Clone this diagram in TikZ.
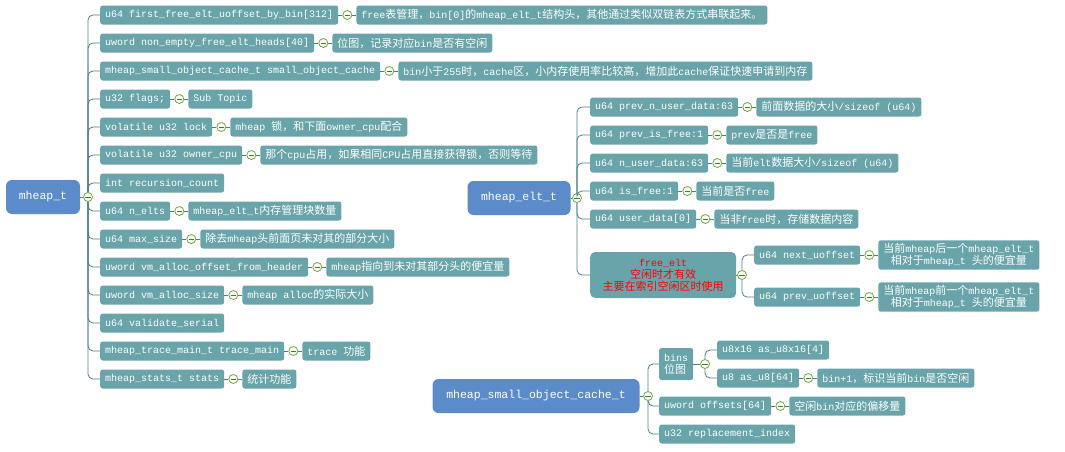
\documentclass[tikz,border=0pt]{standalone}
\usepackage{fontspec}
\setmainfont{Liberation Mono}
\newfontfamily\cjk[Scale=1.1]{Noto Sans CJK SC}
\newcommand{\zh}[1]{{\cjk #1}}
\usetikzlibrary{positioning}
\definecolor{itemfill}{HTML}{68A4A9}
\definecolor{rootfill}{HTML}{5B8BC9}
\definecolor{linkcol}{HTML}{4F7F86}
\definecolor{foldcol}{HTML}{6DAA3A}

\begin{document}
\begin{tikzpicture}[
    x=1pt, y=-1pt,
    font=\fontsize{10}{12}\selectfont,
    item/.style={rectangle, rounded corners=2.5pt, fill=itemfill, text=white, minimum height=19pt, inner xsep=5pt, inner ysep=2pt},
    note/.style={item},
    root/.style={rectangle, rounded corners=6pt, fill=rootfill, text=white, minimum height=34pt, font=\fontsize{11.5}{14}\selectfont},
    fold/.style={circle, draw=foldcol, fill=white, line width=0.8pt, inner sep=0pt, minimum size=9pt,
        path picture={\draw[foldcol!70!black, line width=0.8pt] ([xshift=-2.6pt]path picture bounding box.center) -- ([xshift=2.6pt]path picture bounding box.center);}},
    link/.style={draw=linkcol, line width=0.8pt, rounded corners=5pt}
]
\useasboundingbox (0,0) rectangle (1065,451);

% mheap_t
\node[root, minimum width=74pt] (heap) at (43,197) {mheap\_t};
\node[fold] (heapc) at (88,197) {};

\node[item, anchor=west] (h1) at (100,15) {u64 first\_free\_elt\_uoffset\_by\_bin[312]};
\node[item, anchor=west] (h2) at (100,43) {uword non\_empty\_free\_elt\_heads[40]};
\node[item, anchor=west] (h3) at (100,71) {mheap\_small\_object\_cache\_t small\_object\_cache};
\node[item, anchor=west] (h4) at (100,99) {u32 flags;};
\node[item, anchor=west] (h5) at (100,127) {volatile u32 lock};
\node[item, anchor=west] (h6) at (100,155) {volatile u32 owner\_cpu};
\node[item, anchor=west] (h7) at (100,183) {int recursion\_count};
\node[item, anchor=west] (h8) at (100,211) {u64 n\_elts};
\node[item, anchor=west] (h9) at (100,239) {u64 max\_size};
\node[item, anchor=west] (h10) at (100,267) {uword vm\_alloc\_offset\_from\_header};
\node[item, anchor=west] (h11) at (100,295) {uword vm\_alloc\_size};
\node[item, anchor=west] (h12) at (100,323) {u64 validate\_serial};
\node[item, anchor=west] (h13) at (100,351) {mheap\_trace\_main\_t trace\_main};
\node[item, anchor=west] (h14) at (100,379) {mheap\_stats\_t stats};

\foreach \n in {1,...,14} {
    \draw[link] (heapc) |- (h\n.west);
}
\draw[link] (heap.east) -- (heapc);

% notes of mheap_t
\foreach \n/\txt in {1/{free\zh{表管理，}bin[0]\zh{的}mheap\_elt\_t\zh{结构头，其他通过类似双链表方式串联起来。}},
                     2/{\zh{位图，记录对应}bin\zh{是否有空闲}},
                     3/{bin\zh{小于}255\zh{时，}cache\zh{区，小内存使用率比较高，增加此}cache\zh{保证快速申请到内存}},
                     4/{Sub Topic},
                     5/{mheap \zh{锁，和下面}owner\_cpu\zh{配合}},
                     6/{\zh{那个}cpu\zh{占用，如果相同}CPU\zh{占用直接获得锁，否则等待}},
                     8/{mheap\_elt\_t\zh{内存管理块数量}},
                     9/{\zh{除去}mheap\zh{头前面页未对其的部分大小}},
                     10/{mheap\zh{指向到未对其部分头的便宜量}},
                     11/{mheap alloc\zh{的实际大小}},
                     13/{trace \zh{功能}},
                     14/{\zh{统计功能}}} {
    \node[fold, right=4pt of h\n] (h\n c) {};
    \node[note, right=4pt of h\n c] (h\n n) {\txt};
    \draw[link] (h\n) -- (h\n c) -- (h\n n);
}

% mheap_elt_t
\node[root, minimum width=103pt] (elt) at (519,198) {mheap\_elt\_t};
\node[fold] (eltc) at (577,198) {};

\node[item, anchor=west] (e1) at (590,107) {u64 prev\_n\_user\_data:63};
\node[item, anchor=west] (e2) at (590,135) {u64 prev\_is\_free:1};
\node[item, anchor=west] (e3) at (590,163) {u64 n\_user\_data:63};
\node[item, anchor=west] (e4) at (590,191) {u64 is\_free:1};
\node[item, anchor=west] (e5) at (590,219) {u64 user\_data[0]};
\node[item, anchor=west, align=center, text=red, minimum width=146pt, minimum height=46pt, rounded corners=5pt] (e6) at (590,275)
    {free\_elt\\\zh{空闲时才有效}\\\zh{主要在索引空闲区时使用}};

\foreach \n in {1,...,6} {
    \draw[link] (eltc) |- (e\n.west);
}
\draw[link] (elt.east) -- (eltc);

\foreach \n/\txt in {1/{\zh{前面数据的大小}/sizeof (u64)},
                     2/{prev\zh{是否是}free},
                     3/{\zh{当前}elt\zh{数据大小}/sizeof (u64)},
                     4/{\zh{当前是否}free},
                     5/{\zh{当非}free\zh{时，存储数据内容}}} {
    \node[fold, right=4pt of e\n] (e\n c) {};
    \node[note, right=4pt of e\n c] (e\n n) {\txt};
    \draw[link] (e\n) -- (e\n c) -- (e\n n);
}

% free_elt
\node[fold] (e6c) at (742,275) {};
\node[item, anchor=west] (f1) at (754,255) {u64 next\_uoffset};
\node[item, anchor=west] (f2) at (754,297) {u64 prev\_uoffset};
\draw[link] (e6.east) -- (e6c);
\foreach \n in {1,2} {
    \draw[link] (e6c) |- (f\n.west);
}
\foreach \n/\txt in {1/{\zh{当前}mheap\zh{后一个}mheap\_elt\_t\\\zh{相对于}mheap\_t \zh{头的便宜量}},
                     2/{\zh{当前}mheap\zh{前一个}mheap\_elt\_t\\\zh{相对于}mheap\_t \zh{头的便宜量}}} {
    \node[fold, right=4pt of f\n] (f\n c) {};
    \node[note, right=4pt of f\n c, align=center, inner ysep=3pt] (f\n n) {\txt};
    \draw[link] (f\n) -- (f\n c) -- (f\n n);
}

% mheap_small_object_cache_t
\node[root, minimum width=207pt] (cache) at (536,396) {mheap\_small\_object\_cache\_t};
\node[fold] (cachec) at (648,396) {};

\node[item, anchor=west, align=left, minimum height=32pt] (s1) at (659,364) {bins\\\zh{位图}};
\node[item, anchor=west] (s2) at (659,406) {uword offsets[64]};
\node[item, anchor=west] (s3) at (659,434) {u32 replacement\_index};
\foreach \n in {1,2,3} {
    \draw[link] (cachec) |- (s\n.west);
}
\draw[link] (cache.east) -- (cachec);

\node[fold] (s1c) at (705,364) {};
\node[item, anchor=west] (b1) at (717,350) {u8x16 as\_u8x16[4]};
\node[item, anchor=west] (b2) at (717,378) {u8 as\_u8[64]};
\draw[link] (s1.east) -- (s1c);
\foreach \n in {1,2} {
    \draw[link] (s1c) |- (b\n.west);
}

\node[fold, right=4pt of b2] (b2c) {};
\node[note, right=4pt of b2c] (b2n) {bin+1\zh{，标识当前}bin\zh{是否空闲}};
\draw[link] (b2) -- (b2c) -- (b2n);

\node[fold, right=4pt of s2] (s2c) {};
\node[note, right=4pt of s2c] (s2n) {\zh{空闲}bin\zh{对应的偏移量}};
\draw[link] (s2) -- (s2c) -- (s2n);

\end{tikzpicture}
\end{document}
